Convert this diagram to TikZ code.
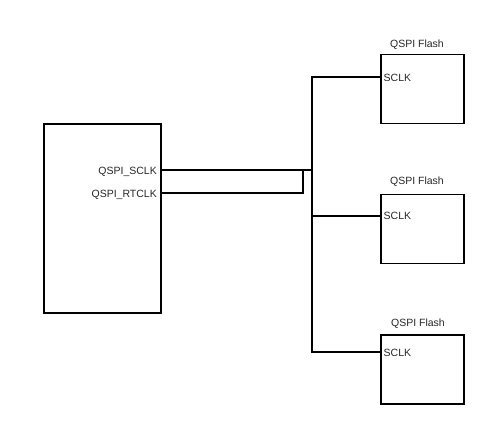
\documentclass[tikz,border=0pt]{standalone}
\usepackage{fontspec}
\setmainfont{Liberation Sans}
\begin{document}
\begin{tikzpicture}[x=1pt,y=-1pt,
  blk/.style={draw,line width=1.5pt,inner sep=0pt},
  wire/.style={line width=1.5pt},
  lbl/.style={font=\fontsize{10.5}{12}\selectfont,inner sep=0pt,text=black!85}]
\useasboundingbox (0,0) rectangle (499,425);
% main block
\node[blk,minimum width=117pt,minimum height=189pt] (mcu) at (102.5,218.5) {};
\node[lbl,anchor=east] (psclk) at (157,172) {QSPI\_SCLK};
\node[lbl,anchor=east] (prtclk) at (157,195) {QSPI\_RTCLK};
\coordinate (o1) at (161,170);
\coordinate (o2) at (161,193);
% flash boxes
\node[blk,minimum width=83pt,minimum height=69pt] (f1) at (422.5,89) {};
\node[blk,minimum width=83pt,minimum height=69pt] (f2) at (422.5,229) {};
\node[blk,minimum width=83pt,minimum height=69pt] (f3) at (422.5,369.5) {};
\node[lbl] (t1) at (417,45) {QSPI Flash};
\node[lbl] (t2) at (417,182) {QSPI Flash};
\node[lbl] (t3) at (418,324) {QSPI Flash};
\node[lbl,anchor=west] (s1) at (383.5,78) {SCLK};
\node[lbl,anchor=west] (s2) at (383.5,216) {SCLK};
\node[lbl,anchor=west] (s3) at (383.5,353) {SCLK};
\coordinate (i1) at (381,77);
\coordinate (i2) at (381,216);
\coordinate (i3) at (381,352);
% bus
\coordinate (btop) at (312,77);
\coordinate (bmid) at (312,170);
\coordinate (bbot) at (312,352);
\coordinate (j) at (303,170);
\draw[wire] (i1) -- (btop) -- (bbot) -- (i3);
\draw[wire] (bmid |- i2) -- (i2);
\draw[wire] (o1) -- (bmid);
\draw[wire] (o2) -- (j |- o2) -- (j);
\end{tikzpicture}
\end{document}
